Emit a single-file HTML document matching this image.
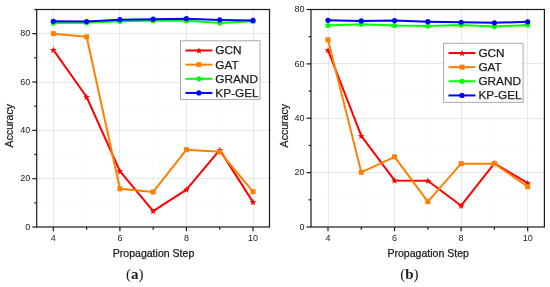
<!DOCTYPE html>
<html><head><meta charset="utf-8"><style>
html,body{margin:0;padding:0;background:#fff;}
body{width:550px;height:287px;overflow:hidden;}
svg{display:block;will-change:transform;}
.tk{font-family:"Liberation Sans",sans-serif;font-size:9px;fill:#1a1a1a;}
.ax{font-family:"Liberation Sans",sans-serif;font-size:10.55px;fill:#1a1a1a;stroke:#1a1a1a;stroke-width:0.25px;}
.lg{font-family:"Liberation Sans",sans-serif;font-size:11.8px;fill:#1a1a1a;stroke:#1a1a1a;stroke-width:0.25px;}
.lb{font-family:"Liberation Serif",serif;font-size:15px;font-weight:bold;fill:#1a1a1a;}
</style></head><body>
<svg width="550" height="287" viewBox="0 0 550 287">
<rect width="550" height="287" fill="#fff"/>
<line x1="36.7" x2="269.5" y1="202.50" y2="202.50" stroke="#f2f2f2" stroke-width="1" stroke-dasharray="1,1.5"/>
<line x1="36.7" x2="269.5" y1="154.50" y2="154.50" stroke="#f2f2f2" stroke-width="1" stroke-dasharray="1,1.5"/>
<line x1="36.7" x2="269.5" y1="106.50" y2="106.50" stroke="#f2f2f2" stroke-width="1" stroke-dasharray="1,1.5"/>
<line x1="36.7" x2="269.5" y1="57.50" y2="57.50" stroke="#f2f2f2" stroke-width="1" stroke-dasharray="1,1.5"/>
<line x1="86.50" x2="86.50" y1="9.5" y2="227.0" stroke="#f2f2f2" stroke-width="1" stroke-dasharray="1,1.5"/>
<line x1="153.50" x2="153.50" y1="9.5" y2="227.0" stroke="#f2f2f2" stroke-width="1" stroke-dasharray="1,1.5"/>
<line x1="219.50" x2="219.50" y1="9.5" y2="227.0" stroke="#f2f2f2" stroke-width="1" stroke-dasharray="1,1.5"/>
<line x1="36.7" x2="269.5" y1="178.50" y2="178.50" stroke="#e8e8e8" stroke-width="1"/>
<line x1="36.7" x2="269.5" y1="130.50" y2="130.50" stroke="#e8e8e8" stroke-width="1"/>
<line x1="36.7" x2="269.5" y1="82.50" y2="82.50" stroke="#e8e8e8" stroke-width="1"/>
<line x1="36.7" x2="269.5" y1="33.50" y2="33.50" stroke="#e8e8e8" stroke-width="1"/>
<line x1="53.50" x2="53.50" y1="9.5" y2="227.0" stroke="#e8e8e8" stroke-width="1"/>
<line x1="119.50" x2="119.50" y1="9.5" y2="227.0" stroke="#e8e8e8" stroke-width="1"/>
<line x1="186.50" x2="186.50" y1="9.5" y2="227.0" stroke="#e8e8e8" stroke-width="1"/>
<line x1="253.50" x2="253.50" y1="9.5" y2="227.0" stroke="#e8e8e8" stroke-width="1"/>
<polyline points="53.35,49.86 86.63,96.98 119.91,171.18 153.19,211.05 186.47,189.54 219.75,149.91 253.03,202.11" fill="none" stroke="#ff0000" stroke-width="2.0" stroke-linejoin="round"/>
<polygon points="53.35,46.56 54.24,48.94 56.77,49.05 54.79,50.63 55.47,53.07 53.35,51.67 51.23,53.07 51.91,50.63 49.93,49.05 52.46,48.94" fill="#ff0000"/>
<polygon points="86.63,93.68 87.52,96.06 90.05,96.17 88.07,97.75 88.75,100.20 86.63,98.80 84.51,100.20 85.19,97.75 83.21,96.17 85.74,96.06" fill="#ff0000"/>
<polygon points="119.91,167.88 120.80,170.25 123.33,170.36 121.35,171.94 122.03,174.39 119.91,172.99 117.79,174.39 118.47,171.94 116.49,170.36 119.02,170.25" fill="#ff0000"/>
<polygon points="153.19,207.75 154.08,210.13 156.61,210.24 154.63,211.82 155.31,214.26 153.19,212.86 151.07,214.26 151.75,211.82 149.77,210.24 152.30,210.13" fill="#ff0000"/>
<polygon points="186.47,186.24 187.36,188.62 189.89,188.73 187.91,190.31 188.59,192.75 186.47,191.35 184.35,192.75 185.03,190.31 183.05,188.73 185.58,188.62" fill="#ff0000"/>
<polygon points="219.75,146.61 220.64,148.99 223.17,149.10 221.19,150.68 221.87,153.12 219.75,151.72 217.63,153.12 218.31,150.68 216.33,149.10 218.86,148.99" fill="#ff0000"/>
<polygon points="253.03,198.81 253.92,201.19 256.45,201.30 254.47,202.88 255.15,205.32 253.03,203.92 250.91,205.32 251.59,202.88 249.61,201.30 252.14,201.19" fill="#ff0000"/>
<polyline points="53.35,33.67 86.63,36.81 119.91,188.82 153.19,191.96 186.47,149.67 219.75,151.84 253.03,191.72" fill="none" stroke="#ff8000" stroke-width="2.0" stroke-linejoin="round"/>
<rect x="50.85" y="31.17" width="5.00" height="5.00" fill="#ff8000"/>
<rect x="84.13" y="34.31" width="5.00" height="5.00" fill="#ff8000"/>
<rect x="117.41" y="186.32" width="5.00" height="5.00" fill="#ff8000"/>
<rect x="150.69" y="189.46" width="5.00" height="5.00" fill="#ff8000"/>
<rect x="183.97" y="147.17" width="5.00" height="5.00" fill="#ff8000"/>
<rect x="217.25" y="149.34" width="5.00" height="5.00" fill="#ff8000"/>
<rect x="250.53" y="189.22" width="5.00" height="5.00" fill="#ff8000"/>
<polyline points="53.35,23.03 86.63,22.79 119.91,21.34 153.19,20.86 186.47,20.86 219.75,23.03 253.03,21.34" fill="none" stroke="#00ff00" stroke-width="2.0" stroke-linejoin="round"/>
<circle cx="53.35" cy="23.03" r="2.60" fill="#00ff00"/>
<circle cx="86.63" cy="22.79" r="2.60" fill="#00ff00"/>
<circle cx="119.91" cy="21.34" r="2.60" fill="#00ff00"/>
<circle cx="153.19" cy="20.86" r="2.60" fill="#00ff00"/>
<circle cx="186.47" cy="20.86" r="2.60" fill="#00ff00"/>
<circle cx="219.75" cy="23.03" r="2.60" fill="#00ff00"/>
<circle cx="253.03" cy="21.34" r="2.60" fill="#00ff00"/>
<polyline points="53.35,21.34 86.63,21.58 119.91,19.65 153.19,19.17 186.47,18.68 219.75,19.89 253.03,20.38" fill="none" stroke="#0000ff" stroke-width="2.0" stroke-linejoin="round"/>
<circle cx="53.35" cy="21.34" r="2.60" fill="#0000ff"/>
<circle cx="86.63" cy="21.58" r="2.60" fill="#0000ff"/>
<circle cx="119.91" cy="19.65" r="2.60" fill="#0000ff"/>
<circle cx="153.19" cy="19.17" r="2.60" fill="#0000ff"/>
<circle cx="186.47" cy="18.68" r="2.60" fill="#0000ff"/>
<circle cx="219.75" cy="19.89" r="2.60" fill="#0000ff"/>
<circle cx="253.03" cy="20.38" r="2.60" fill="#0000ff"/>
<rect x="36.7" y="9.5" width="232.80" height="217.50" fill="none" stroke="#1a1a1a" stroke-width="1.2"/>
<line x1="32.300000000000004" x2="36.7" y1="227.00" y2="227.00" stroke="#1a1a1a" stroke-width="1.2"/>
<text x="30.200000000000003" y="229.70" text-anchor="end" class="tk">0</text>
<line x1="32.300000000000004" x2="36.7" y1="178.67" y2="178.67" stroke="#1a1a1a" stroke-width="1.2"/>
<text x="30.200000000000003" y="181.37" text-anchor="end" class="tk">20</text>
<line x1="32.300000000000004" x2="36.7" y1="130.33" y2="130.33" stroke="#1a1a1a" stroke-width="1.2"/>
<text x="30.200000000000003" y="133.03" text-anchor="end" class="tk">40</text>
<line x1="32.300000000000004" x2="36.7" y1="82.00" y2="82.00" stroke="#1a1a1a" stroke-width="1.2"/>
<text x="30.200000000000003" y="84.70" text-anchor="end" class="tk">60</text>
<line x1="32.300000000000004" x2="36.7" y1="33.67" y2="33.67" stroke="#1a1a1a" stroke-width="1.2"/>
<text x="30.200000000000003" y="36.37" text-anchor="end" class="tk">80</text>
<line x1="34.300000000000004" x2="36.7" y1="202.83" y2="202.83" stroke="#1a1a1a" stroke-width="1.2"/>
<line x1="34.300000000000004" x2="36.7" y1="154.50" y2="154.50" stroke="#1a1a1a" stroke-width="1.2"/>
<line x1="34.300000000000004" x2="36.7" y1="106.17" y2="106.17" stroke="#1a1a1a" stroke-width="1.2"/>
<line x1="34.300000000000004" x2="36.7" y1="57.83" y2="57.83" stroke="#1a1a1a" stroke-width="1.2"/>
<line x1="34.300000000000004" x2="36.7" y1="9.50" y2="9.50" stroke="#1a1a1a" stroke-width="1.2"/>
<line x1="53.35" x2="53.35" y1="227.0" y2="231.2" stroke="#1a1a1a" stroke-width="1.2"/>
<text x="53.35" y="240.8" text-anchor="middle" class="tk">4</text>
<line x1="119.91" x2="119.91" y1="227.0" y2="231.2" stroke="#1a1a1a" stroke-width="1.2"/>
<text x="119.91" y="240.8" text-anchor="middle" class="tk">6</text>
<line x1="186.47" x2="186.47" y1="227.0" y2="231.2" stroke="#1a1a1a" stroke-width="1.2"/>
<text x="186.47" y="240.8" text-anchor="middle" class="tk">8</text>
<line x1="253.03" x2="253.03" y1="227.0" y2="231.2" stroke="#1a1a1a" stroke-width="1.2"/>
<text x="253.03" y="240.8" text-anchor="middle" class="tk">10</text>
<line x1="86.63" x2="86.63" y1="227.0" y2="229.8" stroke="#1a1a1a" stroke-width="1.2"/>
<line x1="153.19" x2="153.19" y1="227.0" y2="229.8" stroke="#1a1a1a" stroke-width="1.2"/>
<line x1="219.75" x2="219.75" y1="227.0" y2="229.8" stroke="#1a1a1a" stroke-width="1.2"/>
<rect x="180.5" y="40.8" width="79.5" height="58.6" fill="#fff" stroke="#a0a0a0" stroke-width="0.9"/>
<line x1="185.40" x2="212.40" y1="50.50" y2="50.50" stroke="#ff0000" stroke-width="2.0"/>
<polygon points="198.90,47.20 199.79,49.58 202.32,49.69 200.34,51.27 201.02,53.71 198.90,52.31 196.78,53.71 197.46,51.27 195.48,49.69 198.01,49.58" fill="#ff0000"/>
<text x="215.30" y="54.40" class="lg">GCN</text>
<line x1="185.40" x2="212.40" y1="64.65" y2="64.65" stroke="#ff8000" stroke-width="2.0"/>
<rect x="196.40" y="62.15" width="5.00" height="5.00" fill="#ff8000"/>
<text x="215.30" y="68.55" class="lg">GAT</text>
<line x1="185.40" x2="212.40" y1="78.80" y2="78.80" stroke="#00ff00" stroke-width="2.0"/>
<circle cx="198.90" cy="78.80" r="2.60" fill="#00ff00"/>
<text x="215.30" y="82.70" class="lg">GRAND</text>
<line x1="185.40" x2="212.40" y1="92.95" y2="92.95" stroke="#0000ff" stroke-width="2.0"/>
<circle cx="198.90" cy="92.95" r="2.60" fill="#0000ff"/>
<text x="215.30" y="96.85" class="lg">KP-GEL</text>
<text x="153.5" y="257.3" text-anchor="middle" class="ax">Propagation Step</text>
<text x="0" y="0" text-anchor="middle" class="ax" transform="translate(13.1,125.7) rotate(-90)">Accuracy</text>
<text x="134.8" y="279" text-anchor="middle" class="lb"><tspan font-weight="normal">(</tspan>a<tspan font-weight="normal">)</tspan></text>
<line x1="311.0" x2="544.4" y1="199.50" y2="199.50" stroke="#f2f2f2" stroke-width="1" stroke-dasharray="1,1.5"/>
<line x1="311.0" x2="544.4" y1="145.50" y2="145.50" stroke="#f2f2f2" stroke-width="1" stroke-dasharray="1,1.5"/>
<line x1="311.0" x2="544.4" y1="91.50" y2="91.50" stroke="#f2f2f2" stroke-width="1" stroke-dasharray="1,1.5"/>
<line x1="311.0" x2="544.4" y1="36.50" y2="36.50" stroke="#f2f2f2" stroke-width="1" stroke-dasharray="1,1.5"/>
<line x1="361.50" x2="361.50" y1="9.5" y2="227.0" stroke="#f2f2f2" stroke-width="1" stroke-dasharray="1,1.5"/>
<line x1="427.50" x2="427.50" y1="9.5" y2="227.0" stroke="#f2f2f2" stroke-width="1" stroke-dasharray="1,1.5"/>
<line x1="494.50" x2="494.50" y1="9.5" y2="227.0" stroke="#f2f2f2" stroke-width="1" stroke-dasharray="1,1.5"/>
<line x1="311.0" x2="544.4" y1="172.50" y2="172.50" stroke="#e8e8e8" stroke-width="1"/>
<line x1="311.0" x2="544.4" y1="118.50" y2="118.50" stroke="#e8e8e8" stroke-width="1"/>
<line x1="311.0" x2="544.4" y1="63.50" y2="63.50" stroke="#e8e8e8" stroke-width="1"/>
<line x1="328.50" x2="328.50" y1="9.5" y2="227.0" stroke="#e8e8e8" stroke-width="1"/>
<line x1="394.50" x2="394.50" y1="9.5" y2="227.0" stroke="#e8e8e8" stroke-width="1"/>
<line x1="461.50" x2="461.50" y1="9.5" y2="227.0" stroke="#e8e8e8" stroke-width="1"/>
<line x1="527.50" x2="527.50" y1="9.5" y2="227.0" stroke="#e8e8e8" stroke-width="1"/>
<polyline points="328.00,50.19 361.28,135.95 394.56,180.46 427.84,180.73 461.12,205.70 494.40,163.36 527.68,183.18" fill="none" stroke="#ff0000" stroke-width="2.0" stroke-linejoin="round"/>
<polygon points="328.00,46.89 328.89,49.27 331.42,49.38 329.44,50.96 330.12,53.40 328.00,52.00 325.88,53.40 326.56,50.96 324.58,49.38 327.11,49.27" fill="#ff0000"/>
<polygon points="361.28,132.65 362.17,135.03 364.70,135.14 362.72,136.72 363.40,139.16 361.28,137.76 359.16,139.16 359.84,136.72 357.86,135.14 360.39,135.03" fill="#ff0000"/>
<polygon points="394.56,177.16 395.45,179.54 397.98,179.65 396.00,181.23 396.68,183.67 394.56,182.27 392.44,183.67 393.12,181.23 391.14,179.65 393.67,179.54" fill="#ff0000"/>
<polygon points="427.84,177.43 428.73,179.81 431.26,179.92 429.28,181.50 429.96,183.95 427.84,182.55 425.72,183.95 426.40,181.50 424.42,179.92 426.95,179.81" fill="#ff0000"/>
<polygon points="461.12,202.40 462.01,204.78 464.54,204.89 462.56,206.47 463.24,208.91 461.12,207.51 459.00,208.91 459.68,206.47 457.70,204.89 460.23,204.78" fill="#ff0000"/>
<polygon points="494.40,160.06 495.29,162.44 497.82,162.55 495.84,164.13 496.52,166.58 494.40,165.18 492.28,166.58 492.96,164.13 490.98,162.55 493.51,162.44" fill="#ff0000"/>
<polygon points="527.68,179.88 528.57,182.25 531.10,182.36 529.12,183.94 529.80,186.39 527.68,184.99 525.56,186.39 526.24,183.94 524.26,182.36 526.79,182.25" fill="#ff0000"/>
<polyline points="328.00,39.88 361.28,172.32 394.56,156.85 427.84,201.63 461.12,163.64 494.40,163.64 527.68,186.70" fill="none" stroke="#ff8000" stroke-width="2.0" stroke-linejoin="round"/>
<rect x="325.50" y="37.38" width="5.00" height="5.00" fill="#ff8000"/>
<rect x="358.78" y="169.82" width="5.00" height="5.00" fill="#ff8000"/>
<rect x="392.06" y="154.35" width="5.00" height="5.00" fill="#ff8000"/>
<rect x="425.34" y="199.13" width="5.00" height="5.00" fill="#ff8000"/>
<rect x="458.62" y="161.14" width="5.00" height="5.00" fill="#ff8000"/>
<rect x="491.90" y="161.14" width="5.00" height="5.00" fill="#ff8000"/>
<rect x="525.18" y="184.20" width="5.00" height="5.00" fill="#ff8000"/>
<polyline points="328.00,25.49 361.28,24.14 394.56,25.49 427.84,26.04 461.12,24.95 494.40,26.58 527.68,24.95" fill="none" stroke="#00ff00" stroke-width="2.0" stroke-linejoin="round"/>
<circle cx="328.00" cy="25.49" r="2.60" fill="#00ff00"/>
<circle cx="361.28" cy="24.14" r="2.60" fill="#00ff00"/>
<circle cx="394.56" cy="25.49" r="2.60" fill="#00ff00"/>
<circle cx="427.84" cy="26.04" r="2.60" fill="#00ff00"/>
<circle cx="461.12" cy="24.95" r="2.60" fill="#00ff00"/>
<circle cx="494.40" cy="26.58" r="2.60" fill="#00ff00"/>
<circle cx="527.68" cy="24.95" r="2.60" fill="#00ff00"/>
<polyline points="328.00,20.34 361.28,20.88 394.56,20.61 427.84,21.69 461.12,22.24 494.40,22.78 527.68,21.83" fill="none" stroke="#0000ff" stroke-width="2.0" stroke-linejoin="round"/>
<circle cx="328.00" cy="20.34" r="2.60" fill="#0000ff"/>
<circle cx="361.28" cy="20.88" r="2.60" fill="#0000ff"/>
<circle cx="394.56" cy="20.61" r="2.60" fill="#0000ff"/>
<circle cx="427.84" cy="21.69" r="2.60" fill="#0000ff"/>
<circle cx="461.12" cy="22.24" r="2.60" fill="#0000ff"/>
<circle cx="494.40" cy="22.78" r="2.60" fill="#0000ff"/>
<circle cx="527.68" cy="21.83" r="2.60" fill="#0000ff"/>
<rect x="311.0" y="9.5" width="233.40" height="217.50" fill="none" stroke="#1a1a1a" stroke-width="1.2"/>
<line x1="306.6" x2="311.0" y1="227.00" y2="227.00" stroke="#1a1a1a" stroke-width="1.2"/>
<text x="304.5" y="229.70" text-anchor="end" class="tk">0</text>
<line x1="306.6" x2="311.0" y1="172.62" y2="172.62" stroke="#1a1a1a" stroke-width="1.2"/>
<text x="304.5" y="175.32" text-anchor="end" class="tk">20</text>
<line x1="306.6" x2="311.0" y1="118.25" y2="118.25" stroke="#1a1a1a" stroke-width="1.2"/>
<text x="304.5" y="120.95" text-anchor="end" class="tk">40</text>
<line x1="306.6" x2="311.0" y1="63.88" y2="63.88" stroke="#1a1a1a" stroke-width="1.2"/>
<text x="304.5" y="66.58" text-anchor="end" class="tk">60</text>
<line x1="306.6" x2="311.0" y1="9.50" y2="9.50" stroke="#1a1a1a" stroke-width="1.2"/>
<text x="304.5" y="12.20" text-anchor="end" class="tk">80</text>
<line x1="308.6" x2="311.0" y1="199.81" y2="199.81" stroke="#1a1a1a" stroke-width="1.2"/>
<line x1="308.6" x2="311.0" y1="145.44" y2="145.44" stroke="#1a1a1a" stroke-width="1.2"/>
<line x1="308.6" x2="311.0" y1="91.06" y2="91.06" stroke="#1a1a1a" stroke-width="1.2"/>
<line x1="308.6" x2="311.0" y1="36.69" y2="36.69" stroke="#1a1a1a" stroke-width="1.2"/>
<line x1="328.00" x2="328.00" y1="227.0" y2="231.2" stroke="#1a1a1a" stroke-width="1.2"/>
<text x="328.00" y="240.8" text-anchor="middle" class="tk">4</text>
<line x1="394.56" x2="394.56" y1="227.0" y2="231.2" stroke="#1a1a1a" stroke-width="1.2"/>
<text x="394.56" y="240.8" text-anchor="middle" class="tk">6</text>
<line x1="461.12" x2="461.12" y1="227.0" y2="231.2" stroke="#1a1a1a" stroke-width="1.2"/>
<text x="461.12" y="240.8" text-anchor="middle" class="tk">8</text>
<line x1="527.68" x2="527.68" y1="227.0" y2="231.2" stroke="#1a1a1a" stroke-width="1.2"/>
<text x="527.68" y="240.8" text-anchor="middle" class="tk">10</text>
<line x1="361.28" x2="361.28" y1="227.0" y2="229.8" stroke="#1a1a1a" stroke-width="1.2"/>
<line x1="427.84" x2="427.84" y1="227.0" y2="229.8" stroke="#1a1a1a" stroke-width="1.2"/>
<line x1="494.40" x2="494.40" y1="227.0" y2="229.8" stroke="#1a1a1a" stroke-width="1.2"/>
<rect x="443.6" y="43.3" width="79.5" height="59.0" fill="#fff" stroke="#a0a0a0" stroke-width="0.9"/>
<line x1="448.50" x2="475.50" y1="53.00" y2="53.00" stroke="#ff0000" stroke-width="2.0"/>
<polygon points="462.00,49.70 462.89,52.08 465.42,52.19 463.44,53.77 464.12,56.21 462.00,54.81 459.88,56.21 460.56,53.77 458.58,52.19 461.11,52.08" fill="#ff0000"/>
<text x="478.40" y="56.90" class="lg">GCN</text>
<line x1="448.50" x2="475.50" y1="67.15" y2="67.15" stroke="#ff8000" stroke-width="2.0"/>
<rect x="459.50" y="64.65" width="5.00" height="5.00" fill="#ff8000"/>
<text x="478.40" y="71.05" class="lg">GAT</text>
<line x1="448.50" x2="475.50" y1="81.30" y2="81.30" stroke="#00ff00" stroke-width="2.0"/>
<circle cx="462.00" cy="81.30" r="2.60" fill="#00ff00"/>
<text x="478.40" y="85.20" class="lg">GRAND</text>
<line x1="448.50" x2="475.50" y1="95.45" y2="95.45" stroke="#0000ff" stroke-width="2.0"/>
<circle cx="462.00" cy="95.45" r="2.60" fill="#0000ff"/>
<text x="478.40" y="99.35" class="lg">KP-GEL</text>
<text x="428.2" y="257.3" text-anchor="middle" class="ax">Propagation Step</text>
<text x="0" y="0" text-anchor="middle" class="ax" transform="translate(288.1,125.7) rotate(-90)">Accuracy</text>
<text x="409.4" y="279" text-anchor="middle" class="lb"><tspan font-weight="normal">(</tspan>b<tspan font-weight="normal">)</tspan></text>
</svg>
</body></html>
